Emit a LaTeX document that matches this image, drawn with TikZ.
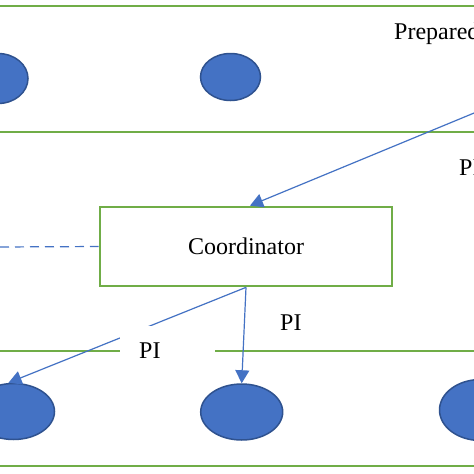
\documentclass[tikz,border=0pt]{standalone}
\usepackage{fontspec}
\setmainfont{Liberation Serif}
\usetikzlibrary{shapes.geometric,arrows.meta}
\definecolor{offblue}{HTML}{4472C4}
\definecolor{offdark}{HTML}{2F528F}
\definecolor{offgreen}{HTML}{70AD47}
\begin{document}
\begin{tikzpicture}[x=1pt,y=-1pt,
  greenline/.style={offgreen, line width=2.7pt},
  blob/.style={ellipse, draw=offdark, line width=1.5pt, fill=offblue, inner sep=0pt},
  link/.style={offblue, line width=1.2pt},
  arrowlink/.style={link, -{Triangle[length=13pt,width=14pt]}},
  lbl/.style={inner sep=0pt, anchor=base west, font=\fontsize{24}{28}\selectfont},
  coordbox/.style={draw=offgreen, line width=2.7pt, minimum width=292pt, minimum height=79pt, inner sep=0pt, font=\fontsize{24}{28}\selectfont, fill=white},
  cover/.style={fill=white, inner sep=0pt}]
\useasboundingbox (0,0) rectangle (474,474);
\fill[white] (0,0) rectangle (474,474);
% green band lines
\draw[greenline] (0,6) -- (474,6);
\draw[greenline] (0,132) -- (474,132);
\draw[greenline] (0,351) -- (474,351);
\draw[greenline] (0,466) -- (474,466);
% ellipses
\node[blob, minimum width=60pt, minimum height=50pt] (t1) at (-2,78.5) {};
\node[blob, minimum width=60pt, minimum height=47pt] (t2) at (230.5,77) {};
\node[blob, minimum width=82pt, minimum height=56pt] (b1) at (13.5,411.5) {};
\node[blob, minimum width=82pt, minimum height=56pt] (b2) at (241.7,412) {};
\node[blob, minimum width=82pt, minimum height=61pt] (b3) at (480.5,410) {};
% coordinator
\node[coordbox] (coord) at (246,246.5) {Coordinator};
% connectors
\coordinate (src) at (500,102.3);
\coordinate (dl) at (0,247);
\draw[arrowlink] (src) -- ([xshift=4pt]coord.north);
\draw[link, dash pattern=on 9pt off 6pt] (dl) -- (coord.west);
\draw[arrowlink] (coord.south) -- (b2.north);
\draw[arrowlink] (coord.south) -- ([xshift=-5pt]b1.north);
% white cover behind label
\node[cover, minimum width=95pt, minimum height=42pt] (cv) at (167.5,347) {};
% labels
\node[lbl] (pr) at (394,39) {Prepared};
\node[lbl] (pia) at (459,175) {PI};
\node[lbl] (pib) at (280,330) {PI};
\node[lbl] (pic) at (139,358) {PI};
\end{tikzpicture}
\end{document}
